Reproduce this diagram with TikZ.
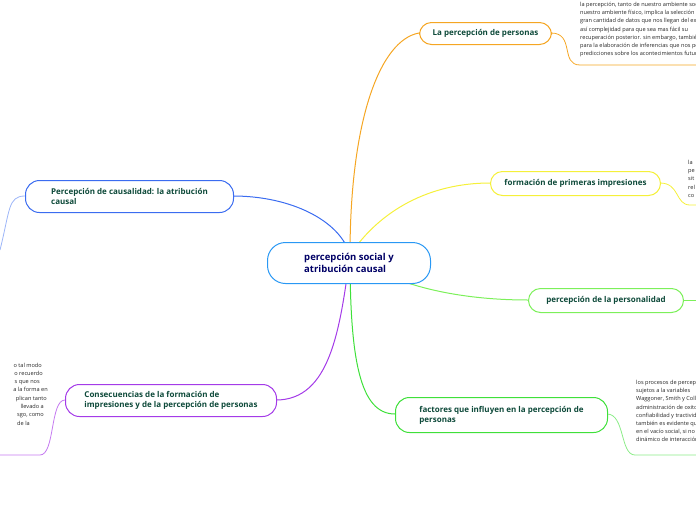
\documentclass[tikz,border=0pt]{standalone}
\usepackage{fontspec}
\setmainfont{Open Sans}
\begin{document}
\begin{tikzpicture}[x=1pt,y=-1pt,
  lbl/.style={draw,rounded corners=12pt,line width=1pt,fill=white,font=\fontsize{8}{10}\selectfont\bfseries,text=labc,align=left,anchor=north west,inner xsep=12pt},
  txt/.style={font=\fontsize{5.6}{8.2}\selectfont,align=left,anchor=north west,inner sep=0pt,text=black!85},
  tl/.style={font=\fontsize{5.6}{8.2}\selectfont,anchor=base east,inner sep=0pt,text=black!85},
  con/.style={line width=1pt}]
\definecolor{labc}{HTML}{0E4A3A}
\definecolor{cblue}{HTML}{3B6CF0}
\definecolor{corange}{HTML}{F5A623}
\definecolor{cyellow}{HTML}{F5F03A}
\definecolor{cgreen}{HTML}{7CF05A}
\definecolor{cgreen2}{HTML}{3FE03A}
\definecolor{cpurple}{HTML}{A43BE8}
\definecolor{cpurple2}{HTML}{C57AF0}
\useasboundingbox (0,0) rectangle (696,520);
\clip (0,0) rectangle (696,520);
\coordinate (c) at (350,255);
% connectors from centre
\draw[con,corange] (c) .. controls (350,120) and (380,40) .. (419,33);
\draw[con,cyellow] (c) .. controls (380,210) and (430,183) .. (490,183);
\draw[con,cgreen] (c) .. controls (400,290) and (470,300) .. (528,300);
\draw[con,cgreen2] (c) .. controls (350,360) and (360,414) .. (395,414);
\draw[con,cblue] (c) .. controls (340,220) and (290,196) .. (233,196);
\draw[con,cpurple] (c) .. controls (340,330) and (330,400) .. (276,400);
% child connectors
\draw[corange,line width=0.8pt] (551,33) .. controls (575,33) and (560,65) .. (580,65) -- (696,65);
\draw[cyellow,line width=0.8pt] (660,183) .. controls (680,183) and (675,205) .. (690,205) -- (696,205);
\draw[cgreen,line width=0.8pt] (683,300) -- (696,300);
\draw[cgreen2!60,line width=0.8pt] (607,414) .. controls (625,414) and (620,455) .. (635,455) -- (696,455);
\draw[cblue!50,line width=0.8pt] (25,196) .. controls (8,196) and (10,210) .. (0,250);
\draw[cpurple2,line width=0.8pt] (65,400) .. controls (50,400) and (55,455) .. (40,455) -- (0,455);
% nodes
\node[lbl,draw=cblue!70!cyan,minimum width=163pt,minimum height=41pt,rounded corners=18pt,font=\fontsize{9.5}{12}\selectfont\bfseries,text=blue!40!black,inner xsep=16pt] (center) at (267,242) {percepción social y\\atribución causal};
\node[lbl,draw=corange,minimum width=132pt,minimum height=22pt] (n1) at (419,22) {La percepción de personas};
\node[lbl,draw=cyellow,minimum width=170pt,minimum height=24pt] (n2) at (490,171) {formación de primeras impresiones};
\node[lbl,draw=cgreen,minimum width=155pt,minimum height=24pt] (n3) at (528,288) {percepción de la personalidad};
\node[lbl,draw=cgreen2,minimum width=212pt,minimum height=35pt,rounded corners=14pt] (n4) at (395,397) {factores que influyen en la percepción de\\personas};
\node[lbl,draw=cblue,minimum width=208pt,minimum height=32pt,rounded corners=14pt] (n5) at (25,180) {Percepción de causalidad: la atribución\\causal};
\node[lbl,draw=cpurple,minimum width=211pt,minimum height=32pt,rounded corners=14pt] (n6) at (65,384) {Consecuencias de la formación de\\impresiones y de la percepción de personas};
% texts
\node[txt] (t1) at (580,2) {la percepción, tanto de nuestro ambiente social como de\\nuestro ambiente físico, implica la selección de una\\gran cantidad de datos que nos llegan del exterior, y\\así complejidad para que sea mas fácil su\\recuperación posterior. sin embargo, también sirve\\para la elaboración de inferencias que nos permiten\\predicciones sobre los acontecimientos futuros};
\node[txt] (t2) at (688,160) {la\\pe\\sit\\rel\\co};
\node[txt] (t4) at (636,380) {los procesos de percepción\\sujetos a la variables\\Waggoner, Smith y Collins\\administración de oxitocina\\confiabilidad y tractividad\\también es evidente que\\en el vacío social, si no\\dinámico de interacción};
\node[tl] (l1) at (42,367) {o tal modo};
\node[tl] (l2) at (43,375.3) {o recuerdo};
\node[tl] (l3) at (40,383.6) {s que nos};
\node[tl] (l4) at (48,391.9) {a la forma en};
\node[tl] (l5) at (47,400.2) {plican tanto};
\node[tl] (l6) at (44,408.5) {llevado a};
\node[tl] (l7) at (44,416.8) {sgo, como};
\node[tl] (l8) at (30,425.1) {de la};
\end{tikzpicture}
\end{document}
